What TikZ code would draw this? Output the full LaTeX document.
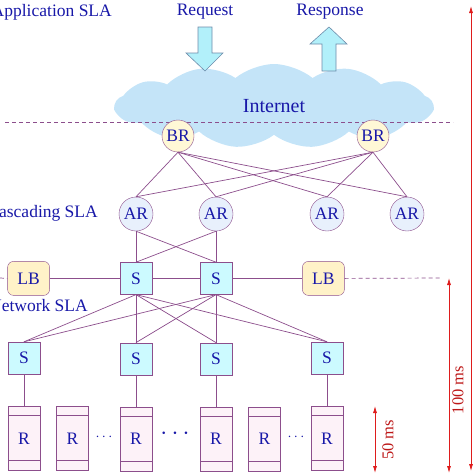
\documentclass[tikz,border=0pt]{standalone}
\usepackage{fontspec}
\setmainfont{Liberation Serif}
\usetikzlibrary{positioning,arrows.meta,shapes.symbols}
\definecolor{lnk}{RGB}{140,78,140}
\definecolor{txt}{RGB}{24,24,168}
\definecolor{msred}{RGB}{222,28,28}
\definecolor{cloudfill}{RGB}{196,228,248}
\definecolor{brfill}{RGB}{255,248,214}
\definecolor{arfill}{RGB}{232,240,252}
\definecolor{swfill}{RGB}{204,250,255}
\definecolor{lbfill}{RGB}{255,242,200}
\definecolor{rfill}{RGB}{253,242,248}
\definecolor{bigfill}{RGB}{178,240,250}
\definecolor{bigline}{RGB}{110,140,170}
\tikzset{
  lab/.style={text=txt, font=\fontsize{17.5}{17.5}\selectfont, inner sep=0pt},
  br/.style={lab, circle, draw=lnk, fill=brfill, minimum size=32pt},
  ar/.style={lab, circle, draw=lnk, fill=arfill, minimum size=34pt},
  sw/.style={lab, rectangle, draw=lnk, fill=swfill, minimum size=32pt},
  lb/.style={lab, rectangle, rounded corners=6pt, draw=lnk, fill=lbfill, minimum width=42pt, minimum height=34pt},
  rack/.style={lab, rectangle, draw=lnk, fill=rfill, minimum width=32pt, minimum height=64pt,
    path picture={
      \draw[lnk] ([yshift=-9pt]path picture bounding box.north west) -- ([yshift=-9pt]path picture bounding box.north east);
      \draw[lnk] ([yshift=10pt]path picture bounding box.south west) -- ([yshift=10pt]path picture bounding box.south east);}},
  sla/.style={text=txt, font=\fontsize{17.5}{17.5}\selectfont, anchor=east, inner sep=0pt},
  ln/.style={lnk, line width=0.7pt},
  dl/.style={lnk, line width=0.7pt, dash pattern=on 4pt off 3pt},
  big/.style={draw=bigline, fill=bigfill, line width=0.6pt},
  rd/.style={{Latex[length=7pt,width=4pt]}-{Latex[length=7pt,width=4pt]}, msred, line width=0.8pt},
  ms/.style={text=msred!85!black, font=\fontsize{16.5}{16.5}\selectfont, rotate=90, inner sep=0pt},
}
\begin{document}
\begin{tikzpicture}[x=1pt, y=-1pt]
\useasboundingbox (0,0) rectangle (474,474);

%% ---- the cloud, and what goes in and out of it
\node[cloud, cloud puffs=13, cloud puff arc=80, aspect=3.9, fill=cloudfill,
  minimum width=318pt, minimum height=84pt, text=txt, font=\fontsize{20}{20}\selectfont] (net) at (274,106) {Internet};
\node[lab] (req) at (205,12) {Request};
\node[lab] (resp) at (330,12) {Response};
\draw[big] (198,27) -- (212,27) -- (212,53) -- (223,53) -- (205,71) -- (186,53) -- (198,53) -- cycle;
\draw[big] (329,27) -- (347,44) -- (336,44) -- (336,71) -- (322,71) -- (322,44) -- (310,44) -- cycle;

%% ---- the three levels of agreement
\node[sla] (app) at (112,12) {Application SLA};
\node[sla] (cas) at (98,213) {Cascading SLA};
\node[sla] (netw) at (88,306) {Network SLA};
\coordinate (bl) at (5,122);
\coordinate (br) at (453,122);
\draw[dl] (bl) -- (br);

%% ---- routers
\node[br] (br1) at (178,136) {BR};
\node[br] (br2) at (373,136) {BR};
\node[ar] (ar1) at (136,214) {AR};
\node[ar] (ar2) at (216,214) {AR};
\node[ar] (ar3) at (327,214) {AR};
\node[ar] (ar4) at (407,214) {AR};

%% ---- switches and load balancers
\node[sw, below=31pt of ar1] (s1) {S};
\node[sw, below=31pt of ar2] (s2) {S};
\node[lb, left=70pt of s1] (lb1) {LB};
\node[lb, right=70pt of s2] (lb2) {LB};
\node[sw] (t1) at (24,358) {S};
\node[sw, below=48pt of s1] (t2) {S};
\node[sw, below=48pt of s2] (t3) {S};
\node[sw] (t4) at (327,358) {S};

%% ---- racks
\node[rack, below=32pt of t1] (r1) {R};
\node[rack, right=16pt of r1] (r2) {R};
\node[rack, below=32pt of t2] (r3) {R};
\node[rack, below=32pt of t3] (r4) {R};
\node[rack, right=16pt of r4] (r5) {R};
\node[rack, below=32pt of t4] (r6) {R};
\node[text=txt, font=\fontsize{14}{14}\selectfont] (d1) at (104,437) {$\cdots$};
\node[text=txt, font=\fontsize{29}{29}\selectfont] (d2) at (175,434) {$\cdots$};
\node[text=txt, font=\fontsize{14}{14}\selectfont] (d3) at (296,437) {$\cdots$};

%% ---- links
\foreach \a in {br1,br2}
  \foreach \b in {ar1,ar2,ar3,ar4}
    \draw[ln] (\a.south) -- (\b.north);
\foreach \a in {ar1,ar2}
  \foreach \b in {s1,s2}
    \draw[ln] (\a.south) -- (\b.north);
\foreach \a in {s1,s2}
  \foreach \b in {t1,t2,t3,t4}
    \draw[ln] (\a.south) -- (\b.north);
\draw[ln] (lb1) -- (s1) -- (s2) -- (lb2);
\draw[ln] (t1) -- (r1);  \draw[ln] (t2) -- (r3);
\draw[ln] (t3) -- (r4);  \draw[ln] (t4) -- (r6);
\coordinate (ml) at (0,278);
\coordinate (mr) at (440,278);
\draw[dl] (ml) -- (lb1.west);
\draw[dl] (lb2.east) -- (mr);

%% ---- delays
\coordinate (f50t) at (375,406);  \coordinate (f50b) at (375,473);
\coordinate (f100t) at (449,278); \coordinate (f100b) at (449,473);
\coordinate (fallt) at (471,6);   \coordinate (fallb) at (471,471);
\draw[rd] (f50t) -- (f50b);
\draw[rd] (f100t) -- (f100b);
\draw[rd] (fallt) -- (fallb);
\node[ms] (l50) at (388,440) {50 ms};
\node[ms] (l100) at (458,390) {100 ms};
\end{tikzpicture}
\end{document}
